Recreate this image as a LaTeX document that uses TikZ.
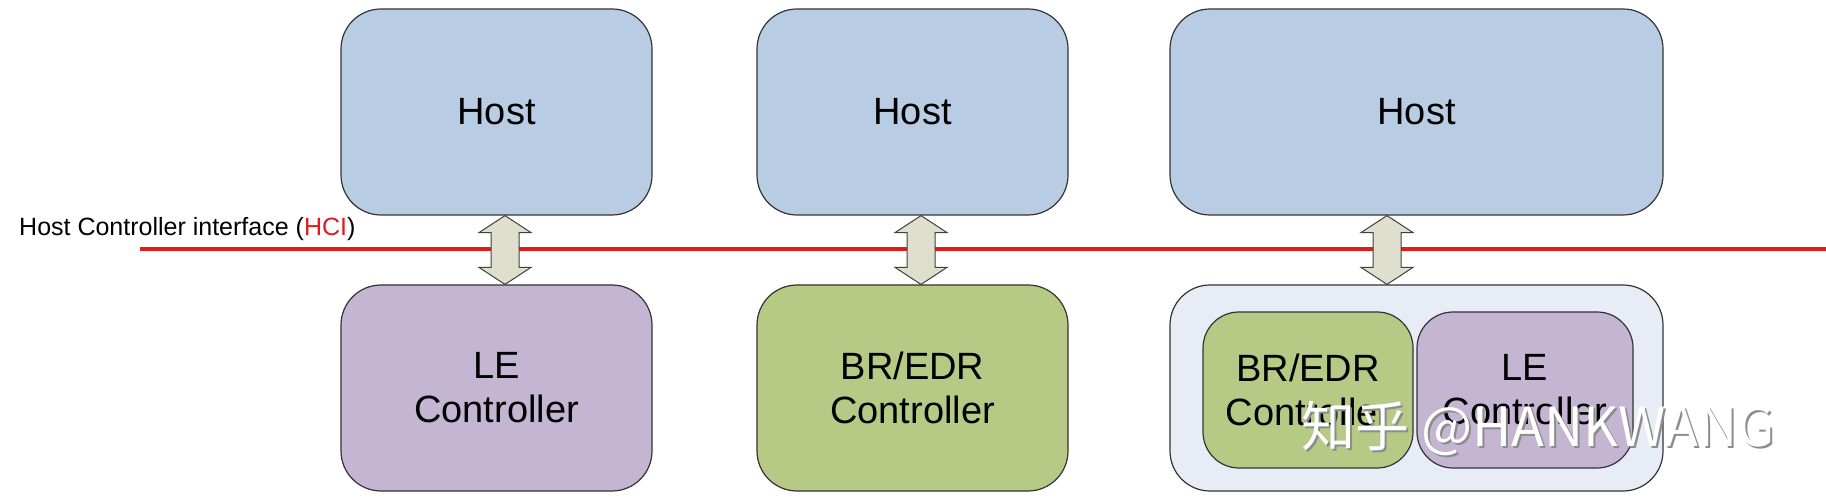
\documentclass[tikz,border=0pt]{standalone}
\usepackage{fontspec}
\setmainfont{Liberation Sans}
\newfontfamily\cjkf{Noto Sans CJK SC}
\usetikzlibrary{calc}
\definecolor{hostc}{HTML}{B8CCE4}
\definecolor{lec}{HTML}{C4B5D3}
\definecolor{brc}{HTML}{B6CA86}
\definecolor{outc}{HTML}{E7ECF7}
\definecolor{arrc}{HTML}{DEE0CD}
\definecolor{hcired}{HTML}{E31B1B}
\begin{document}
\begin{tikzpicture}[x=1pt,y=-1pt,
  box/.style={draw=black!80,line width=1.2pt,rounded corners=40pt,minimum width=#1,inner sep=0pt,align=center,font=\fontsize{38}{44}\selectfont},
  box/.default=311pt,
  dbl/.style={fill=arrc,draw=black!75,line width=1pt},
  wmark/.style={anchor=center,inner sep=0pt,font=\cjkf\fontsize{54}{60}\selectfont}]
\useasboundingbox (0,0) rectangle (1826,502);
\newcommand{\darr}[3]{%
  \path let \p1=(#1.south), \p2=(#2.north) in
  [dbl] (#3,\y1) -- (#3-26,\y1-17) -- (#3-14,\y1-17) -- (#3-14,\y2+17) -- (#3-26,\y2+17) -- (#3,\y2)
  -- (#3+26,\y2+17) -- (#3+14,\y2+17) -- (#3+14,\y1-17) -- (#3+26,\y1-17) -- cycle;}
\node[box,fill=hostc,minimum height=206pt] (h1) at (496.5,112) {Host};
\node[box,fill=hostc,minimum height=206pt] (h2) at (912.5,112) {Host};
\node[box=493pt,fill=hostc,minimum height=206pt] (h3) at (1416.5,112) {Host};
\node[box,fill=lec,minimum height=206pt] (l1) at (496.5,388) {LE\\Controller};
\node[box,fill=brc,minimum height=206pt] (l2) at (912.5,388) {BR/EDR\\Controller};
\node[box=493pt,fill=outc,minimum height=206pt] (l3) at (1416.5,388) {};
\node[box=210pt,fill=brc,minimum height=156pt,rounded corners=36pt] (b3) at (1308,390) {BR/EDR\\Controller};
\node[box=216pt,fill=lec,minimum height=156pt,rounded corners=36pt] (e3) at (1525,390) {LE\\Controller};
\coordinate (ra) at (140,249);
\coordinate (rb) at (1826,249);
\draw[hcired,line width=4pt] (ra) -- (rb);
\darr{h1}{l1}{505}
\darr{h2}{l2}{921}
\darr{h3}{l3}{1387}
\node[anchor=base west,inner sep=0pt,font=\fontsize{25}{30}\selectfont] (hci) at (19,236) {Host Controller interface (\textcolor{hcired}{HCI})};
\node[wmark,text=black!45] (wms) at (1540,430) {知乎 @HANKWANG};
\node[wmark,text=white] (wm) at (1538,428) {知乎 @HANKWANG};
\end{tikzpicture}
\end{document}
